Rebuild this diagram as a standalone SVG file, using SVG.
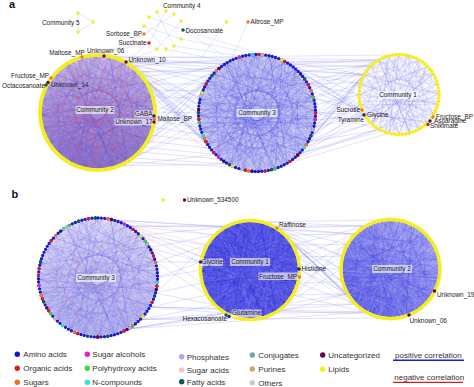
<svg xmlns="http://www.w3.org/2000/svg" width="474" height="387" viewBox="0 0 474 387">
<style>
text{font-family:"Liberation Sans",Arial,sans-serif;fill:#222}
.l{font-size:6.4px}
.lg{font-size:8px;fill:#333}
.pl{font-size:11px;font-weight:bold;fill:#111}
.box{fill:#fff;fill-opacity:.62}
.e{stroke:#6060ee;stroke-opacity:.36;stroke-width:.5;fill:none}
.er{stroke:#e87a8a;stroke-opacity:.35;stroke-width:.5;fill:none}
.ef{stroke:#a8a8f0;stroke-opacity:.55;stroke-width:.5;fill:none}
.ring{fill:none;stroke-linecap:round}
.y{stroke:#f3ee1c}
.ch{fill:none}
</style>
<defs>
<path id="ch" d="M1 0L-.707 .707M.966 .259L-.966 -.259M.866 .5L-.5 .866M.707 .707L-.5 -.866M.5 .866L-.966 .259M.259 .966L.259 -.966M0 1L-.866 -.5M-.259 .966L.5 -.866M-.5 .866L-.259 -.966M-.707 .707L.866 -.5M-.866 .5L.707 .707M-.966 .259L0 -1M-1 0L.707 -.707M-.966 -.259L.866 .5M-.866 -.5L.966 -.259M-.707 -.707L0 1M-.5 -.866L.966 .259M-.259 -.966L.5 .866M0 -1L-.259 .966M.259 -.966L-.866 .5M.5 -.866L.259 .966M.707 -.707L-1 0M.866 -.5L-.707 -.707M.966 -.259L-.5 .866M1 0L-.866 -.5M.866 .5L.259 -.966M.5 .866L-.707 -.707M0 1L.707 -.707M-.707 .707L-.259 -.966M-.966 .259L.966 .259M-.966 -.259L.5 -.866M-.5 -.866L.259 .966M0 -1L.707 .707M.866 -.5L-.707 .707M.966 .259L-.259 .966M.259 .966L-1 0M-.866 .5L-.5 -.866M-.866 -.5L.5 -.866M.259 -.966L.966 -.259M.985 .174L-.985 .174M.819 .574L-.819 -.574M.469 .883L-.139 -.99M.087 .996L-.342 -.94M-.375 .927L.766 -.643M-.766 .643L.643 -.766M-.94 .342L.996 .087M-.996 -.087L.883 .469M-.819 -.574L.53 .848M-.423 -.906L.259 .966M-.087 -.996L-.342 .94M.342 -.94L-.643 .766"/>
<path id="u110" d="M17.507 0A17.507 17.507 0 1 1 -17.507 0A17.507 17.507 0 1 1 17.507 0"/>
<path id="u130" d="M20.69 0A20.69 20.69 0 1 1 -20.69 0A20.69 20.69 0 1 1 20.69 0"/>
<path id="u72" d="M11.459 0A11.459 11.459 0 1 1 -11.459 0A11.459 11.459 0 1 1 11.459 0"/>
<path id="u120" d="M19.099 0A19.099 19.099 0 1 1 -19.099 0A19.099 19.099 0 1 1 19.099 0"/>
<linearGradient id="g2a" x1="0" y1="0" x2="0" y2="1"><stop offset="0" stop-color="#c6bcf0"/><stop offset="1" stop-color="#8474d0"/></linearGradient>
<linearGradient id="g3b" x1="0" y1="0" x2="0" y2="1"><stop offset="0" stop-color="#dedef9"/><stop offset="1" stop-color="#b4b4f1"/></linearGradient>
<linearGradient id="g2b" x1="1" y1="0" x2="0" y2="1"><stop offset="0" stop-color="#b6b6f6"/><stop offset=".5" stop-color="#8a8aee"/><stop offset="1" stop-color="#5c5ce6"/></linearGradient>
</defs>
<rect width="474" height="387" fill="#fff"/>
<text class="pl" x="9" y="8">a</text>
<text class="pl" x="11.5" y="198.3">b</text>

<g id="connectors">
<path class="e" d="M126 62L228 62M126 62L215.5 71.5M126 62L206 84M126 62L200.5 98M126 62L198.5 113M126 62L200.5 128M126 62L206 142M138 72L215.5 71.5M138 72L200.5 98M138 72L200.5 128M138 72L228 164M147 84L206 84M147 84L198.5 113M147 84L215.5 154.5M147 84L228 62M153 97L200.5 98M153 97L215.5 71.5M153 97L206 142M155 112L198.5 113M155 112L206 84M155 112L228 164M154 120L200.5 128M154 120L228 62M150 135L206 142M150 135L200.5 98M143 147L215.5 154.5M143 147L198.5 113M133 158L228 164M133 158L200.5 128M120 166L228 164M120 166L215.5 154.5M104 56L379 60M126 62L371 66M117 58L388 55M126 62L364 74.5M138 72L379 60M104 56L364 74.5"/>
<path class="e" d="M132 66L210 78M132 66L203 135M143 77L199 105M143 77L221 159M151 90L203 91M151 90L210 148M154.5 105L199.5 121M154.5 105L221 67M153 127L203 135M153 127L210 78M147 141L210 148M147 141L199 105M139 152L221 159M139 152L203 91M127 162L234 167M127 162L199.5 121M132 66L234 59M143 77L221 67M151 90L234 167M153 127L221 67M132 66L199 105M143 77L203 135M147 141L221 67M139 152L210 78"/>
<path class="e" d="M286 62L379 60M286 62L364 74.5M286 62L359 94.5M286 62L362 110M298 72L371 66M298 72L360.4 84M298 72L360.4 105M298 72L364 115M308 84L364 74.5M308 84L359 94.5M308 84L362 110M308 84L379 60M313.5 98L360.4 84M313.5 98L364 115M313.5 98L371 66M315.5 113L359 94.5M315.5 113L362 110M315.5 113L379 129M315.5 113L379 60M313.5 128L360.4 105M313.5 128L364 115M313.5 128L364 74.5M313.5 128L388 55M308 142L364 115M308 142L371 123M308 142L371 66M298 154L379 129M298 154L379 60M298 154L362 110M286 164L389 133M286 164L364 115M286 164L360.4 84M315.5 113L433 117M308 142L430 121M313.5 98L428 124M298 154L433 117M286 62L420 62M308 84L436 80"/>
<path class="e" d="M292 67L371 66M303 78L364 74.5M311 91L362 110M314.5 105L359 94.5M315 120L364 115M311 135L360.4 105M303 148L371 123M292 159L379 129M311 91L379 60M303 148L364 74.5M292 159L359 94.5M315 120L388 55M292 67L362 110M303 78L364 115M311 135L371 66"/>
<path class="ef" d="M78 13L93 22M93 22L78 32M78 13L78 32M157 12L174 46M166 11L149 43M144 26L181 39M149 17L183 30M174 14L144 34M181 21L157 49M166 49L144 26M144 34L104 56M149 43L126 62M157 49L126 62M166 49L228 62M174 46L240 56M181 39L257 54M183 30L287 62M149 43L82 57M248 22L232 58M226 22L200 60M183 30L223 55"/>
<path class="e" d="M128 226L225 227M128 226L215 235M128 226L202 257M140 235.4L225 227M140 235.4L207 245M140 235.4L200.5 262M149.5 247.75L215 235M149.5 247.75L200.5 262M149.5 247.75L202 283M155.5 262L200.5 262M155.5 262L207 245M155.5 262L207 295M157.5 277.5L200.5 270M157.5 277.5L200.5 262M155.5 293L202 283M155.5 293L215 305M155.5 293L225 227M149.5 307L207 295M149.5 307L225 313M140 319.6L215 305M140 319.6L229 316M128 329L225 313M128 329L229 316M113.4 220L225 227M149.5 307L366 312M140 319.6L355.5 304M128 329L366 312M140 319.6L380 318M149.5 307L409 315M128 329L347.6 293.75M113.4 220L355.5 234M128 226L366 226"/>
<path class="er" d="M128 226L207 245M140 235.4L202 257M113.4 220L215 235M120 222L200 250"/>
<path class="e" d="M277 228L366 226M277 228L355.5 234M277 228L347.6 244.25M277 228L342.7 256.2M277 228L341 269M277 228L342.7 281.8M277 228L347.6 293.75M277 228L355.5 304M277 228L366 312M285 235L355.5 234M285 235L342.7 256.2M285 235L342.7 281.8M285 235L355.5 304M293 245L347.6 244.25M293 245L341 269M293 245L347.6 293.75M293 245L366 312M293 245L366 226M298 257L342.7 256.2M298 257L342.7 281.8M298 257L355.5 304M298 257L355.5 234M299 269L341 269M299 269L347.6 293.75M299 269L366 312M299 269L347.6 244.25M298 283L342.7 281.8M298 283L355.5 304M298 283L342.7 256.2M293 295L347.6 293.75M293 295L366 312M293 295L355.5 234M285 305L355.5 304M285 305L341 269M285 305L366 226M275 313L366 312M275 313L347.6 293.75M262 222L366 226M262 222L380 220"/>
</g>

<g id="community2a">
<circle cx="97.5" cy="112.5" r="56" fill="url(#g2a)"/>
<use href="#ch" class="ch" transform="translate(97.5 112.5) scale(56)" stroke="#4a4ad8" stroke-opacity=".22" stroke-width=".01"/>
<use href="#ch" class="ch" transform="translate(97.5 112.5) rotate(19) scale(-56 56)" stroke="#d04a70" stroke-opacity=".22" stroke-width=".01"/>
<use href="#ch" class="ch" transform="translate(97.5 112.5) rotate(43) scale(56)" stroke="#5a4ad8" stroke-opacity=".2" stroke-width=".01"/>
<use href="#ch" class="ch" transform="translate(97.5 112.5) rotate(71) scale(-56 56)" stroke="#c85080" stroke-opacity=".2" stroke-width=".01"/>
<use href="#ch" class="ch" transform="translate(97.5 112.5) rotate(103) scale(56)" stroke="#4040d0" stroke-opacity=".2" stroke-width=".01"/>
<use href="#ch" class="ch" transform="translate(97.5 112.5) rotate(131) scale(-56 56)" stroke="#c05088" stroke-opacity=".18" stroke-width=".01"/>
<use href="#u130" class="ring y" transform="translate(97.5 112.5) scale(2.779)" stroke-width="1.511" stroke-dasharray="0 1"/>
<rect class="box" x="75.5" y="106" width="39" height="8"/>
<text class="l" x="95" y="112" text-anchor="middle">Community 2</text>
<circle cx="82" cy="57" r="1.7" fill="#f07a22"/><text class="l" x="67" y="55" text-anchor="middle">Maltose_MP</text>
<circle cx="104" cy="56" r="1.7" fill="#5a0848"/><text class="l" x="87" y="52.5">Unknown_06</text>
<circle cx="126" cy="62" r="1.7" fill="#5a0848"/><text class="l" x="128.5" y="62">Unknown_10</text>
<circle cx="51" cy="78" r="1.7" fill="#f07a22"/><text class="l" x="49" y="78" text-anchor="end">Fructose_MP</text>
<circle cx="48" cy="82.5" r="1.7" fill="#5a0848"/><circle cx="46" cy="85" r="1.7" fill="#0e5e52"/>
<text class="l" x="45" y="87.5" text-anchor="end">Octacosanoate</text><text class="l" x="51" y="87">Unknown_14</text>
<rect class="box" x="134.5" y="110.5" width="18.5" height="7"/>
<rect class="box" x="114.5" y="118.5" width="38.5" height="7"/>
<circle cx="154" cy="116" r="1.7" fill="#1a1ad0"/><text class="l" x="152.5" y="116.3" text-anchor="end">GABA</text>
<circle cx="154" cy="122" r="1.7" fill="#5a0848"/><text class="l" x="152.5" y="124" text-anchor="end">Unknown_17</text>
<circle cx="154.5" cy="119" r="1.7" fill="#f07a22"/><text class="l" x="157.5" y="121.3">Maltose_BP</text>
</g>

<g id="community3a">
<circle cx="257" cy="113" r="57" fill="#c8c8f4"/>
<use href="#ch" class="ch" transform="translate(257 113) scale(57)" stroke="#4040e0" stroke-opacity=".24" stroke-width=".01"/>
<use href="#ch" class="ch" transform="translate(257 113) rotate(19) scale(-57 57)" stroke="#4a4ae2" stroke-opacity=".22" stroke-width=".01"/>
<use href="#ch" class="ch" transform="translate(257 113) rotate(43) scale(57)" stroke="#5a5ae8" stroke-opacity=".22" stroke-width=".01"/>
<use href="#ch" class="ch" transform="translate(257 113) rotate(71) scale(-57 57)" stroke="#3434d8" stroke-opacity=".2" stroke-width=".01"/>
<use href="#ch" class="ch" transform="translate(257 113) rotate(103) scale(57)" stroke="#3c3cdc" stroke-opacity=".2" stroke-width=".01"/>
<g transform="translate(257 113) scale(3.3415)" stroke-width="1.02">
<use href="#u110" class="ring" stroke="#1a1ad0" stroke-dasharray="0 1"/>
<use href="#u110" class="ring" stroke="#e01818" stroke-dasharray="0 5 0 9 0 3 0 8 0 6 0 11 0 4 0 7 0 2 0 9 0 13 0 6 0 8 0 10 0 9"/>
<use href="#u110" class="ring" stroke="#5a0848" stroke-dashoffset="-2" stroke-dasharray="0 12 0 15 0 9 0 18 0 14 0 11 0 16 0 15"/>
<use href="#u110" class="ring" stroke="#0e5e52" stroke-dashoffset="-7" stroke-dasharray="0 16 0 13 0 19 0 12 0 17 0 15 0 18"/>
<use href="#u110" class="ring" stroke="#f07a22" stroke-dashoffset="-10" stroke-dasharray="0 20 0 17 0 22 0 15 0 19 0 17"/>
<use href="#u110" class="ring" stroke="#3cd03c" stroke-dashoffset="-22" stroke-dasharray="0 30 0 25 0 28 0 27"/>
<use href="#u110" class="ring" stroke="#f0ec1c" stroke-dashoffset="-35" stroke-dasharray="0 26 0 29 0 31 0 24"/>
<use href="#u110" class="ring" stroke="#e020d0" stroke-dashoffset="-40" stroke-dasharray="0 37 0 35 0 38"/>
<use href="#u110" class="ring" stroke="#30e0d0" stroke-dashoffset="-48" stroke-dasharray="0 33 0 40 0 37"/>
<use href="#u110" class="ring" stroke="#b8b8cc" stroke-dashoffset="-60" stroke-dasharray="0 24 0 31 0 27 0 28"/>
</g>
<rect class="box" x="237" y="109" width="40" height="8"/>
<text class="l" x="257" y="115" text-anchor="middle">Community 3</text>
</g>

<g id="community1a">
<circle cx="399" cy="94.5" r="39" fill="#f6f6fe" fill-opacity=".75"/>
<use href="#ch" class="ch" transform="translate(399 94.5) scale(39)" stroke="#7070ee" stroke-opacity=".3" stroke-width=".014"/>
<use href="#ch" class="ch" transform="translate(399 94.5) rotate(29) scale(-39 39)" stroke="#8080f0" stroke-opacity=".28" stroke-width=".014"/>
<use href="#u72" class="ring y" transform="translate(399 94.5) scale(3.4907)" stroke-width="1.05" stroke-dasharray="0 1"/>
<rect class="box" x="378" y="91" width="40" height="8"/>
<text class="l" x="398" y="97" text-anchor="middle">Community 1</text>
<circle cx="362" cy="110" r="1.7" fill="#f07a22"/><text class="l" x="360" y="112" text-anchor="end">Sucrose</text>
<circle cx="364" cy="115" r="1.7" fill="#1a1ad0"/><text class="l" x="367" y="117">Glycine</text>
<text class="l" x="364" y="121.5" text-anchor="end">Tyramine</text>
<circle cx="433" cy="117" r="1.7" fill="#f07a22"/><text class="l" x="436" y="118.8">Fructose_BP</text>
<circle cx="430" cy="121" r="1.7" fill="#1a1ad0"/><text class="l" x="434" y="123.3">Asparagine</text>
<circle cx="428" cy="124.5" r="1.7" fill="#e01818"/><text class="l" x="430" y="128">Shikimate</text>
</g>

<g id="community5">
<circle cx="78" cy="13" r="1.7" fill="#f3ee1c"/><circle cx="93" cy="22" r="1.7" fill="#f3ee1c"/><circle cx="78" cy="32" r="1.7" fill="#f3ee1c"/>
<text class="l" x="42" y="25">Community 5</text>
</g>

<g id="community4">
<circle cx="157" cy="12" r="1.7" fill="#f3ee1c"/><circle cx="166" cy="11" r="1.7" fill="#f3ee1c"/><circle cx="174" cy="14" r="1.7" fill="#f3ee1c"/><circle cx="181" cy="21" r="1.7" fill="#f3ee1c"/><circle cx="181" cy="39" r="1.7" fill="#f3ee1c"/><circle cx="174" cy="46" r="1.7" fill="#f3ee1c"/><circle cx="166" cy="49" r="1.7" fill="#f3ee1c"/><circle cx="157" cy="49" r="1.7" fill="#f3ee1c"/><circle cx="149" cy="17" r="1.7" fill="#f3ee1c"/><circle cx="144" cy="26" r="1.7" fill="#f3ee1c"/>
<circle cx="144" cy="34" r="1.7" fill="#f07a22"/><text class="l" x="142" y="35.5" text-anchor="end">Sorbose_BP</text>
<circle cx="149" cy="43" r="1.7" fill="#e01818"/><text class="l" x="146.5" y="45" text-anchor="end">Succinate</text>
<circle cx="183" cy="30" r="1.7" fill="#0e5e52"/><text class="l" x="185.5" y="33">Docosanoate</text>
<text class="l" x="163" y="8">Community 4</text>
</g>

<g id="altrose">
<circle cx="226.5" cy="22" r="1.7" fill="#f3ee1c"/>
<circle cx="248" cy="22" r="1.7" fill="#f07a22"/><text class="l" x="250.5" y="24">Altrose_MP</text>
</g>

<g id="unknown534500">
<circle cx="163" cy="200" r="1.7" fill="#f3ee1c"/>
<circle cx="184.5" cy="200" r="1.7" fill="#5a0848"/><text class="l" x="187" y="202.3">Unknown_534500</text>
</g>

<g id="community3b">
<circle cx="98" cy="277.5" r="58" fill="url(#g3b)"/>
<use href="#ch" class="ch" transform="translate(98 277.5) scale(58)" stroke="#5a5ae6" stroke-opacity=".22" stroke-width=".01"/>
<use href="#ch" class="ch" transform="translate(98 277.5) rotate(19) scale(-58 58)" stroke="#6060e8" stroke-opacity=".2" stroke-width=".01"/>
<use href="#ch" class="ch" transform="translate(98 277.5) rotate(43) scale(58)" stroke="#4c4ce0" stroke-opacity=".2" stroke-width=".01"/>
<use href="#ch" class="ch" transform="translate(98 277.5) rotate(71) scale(-58 58)" stroke="#e08090" stroke-opacity=".16" stroke-width=".01"/>
<use href="#ch" class="ch" transform="translate(98 277.5) rotate(103) scale(58)" stroke="#5050e0" stroke-opacity=".18" stroke-width=".01"/>
<g transform="translate(98 277.5) rotate(-90) scale(3.3987)" stroke-width="1.0">
<use href="#u110" class="ring" stroke="#1a1ad0" stroke-dasharray="0 1"/>
<use href="#u110" class="ring" stroke="#e01818" stroke-dashoffset="-30" stroke-dasharray="0 5 0 9 0 3 0 8 0 6 0 11 0 4 0 7 0 2 0 9 0 13 0 6 0 8 0 10 0 9"/>
<use href="#u110" class="ring" stroke="#5a0848" stroke-dashoffset="-19" stroke-dasharray="0 12 0 15 0 9 0 18 0 14 0 11 0 16 0 15"/>
<use href="#u110" class="ring" stroke="#0e5e52" stroke-dashoffset="-52" stroke-dasharray="0 6 0 13 0 4 0 12 0 17 0 5 0 18 0 16 0 19"/>
<use href="#u110" class="ring" stroke="#f07a22" stroke-dashoffset="-3" stroke-dasharray="0 20 0 17 0 22 0 15 0 19 0 17"/>
<use href="#u110" class="ring" stroke="#3cd03c" stroke-dashoffset="-71" stroke-dasharray="0 30 0 25 0 28 0 27"/>
<use href="#u110" class="ring" stroke="#f0ec1c" stroke-dashoffset="-14" stroke-dasharray="0 26 0 29 0 31 0 24"/>
<use href="#u110" class="ring" stroke="#e020d0" stroke-dashoffset="-8" stroke-dasharray="0 37 0 35 0 38"/>
<use href="#u110" class="ring" stroke="#30e0d0" stroke-dashoffset="-66" stroke-dasharray="0 33 0 40 0 37"/>
<use href="#u110" class="ring" stroke="#b8b8cc" stroke-dashoffset="-45" stroke-dasharray="0 24 0 31 0 27 0 28"/>
</g>
<rect class="box" x="76" y="274" width="40" height="8"/>
<text class="l" x="96" y="280" text-anchor="middle">Community 3</text>
</g>

<g id="community1b">
<circle cx="250" cy="270" r="48" fill="#5454e6"/>
<use href="#ch" class="ch" transform="translate(250 270) scale(48)" stroke="#2a2ad0" stroke-opacity=".35" stroke-width=".012"/>
<use href="#ch" class="ch" transform="translate(250 270) rotate(19) scale(-48 48)" stroke="#9a9af4" stroke-opacity=".3" stroke-width=".012"/>
<use href="#ch" class="ch" transform="translate(250 270) rotate(43) scale(48)" stroke="#3a3ad8" stroke-opacity=".3" stroke-width=".012"/>
<use href="#ch" class="ch" transform="translate(250 270) rotate(71) scale(-48 48)" stroke="#8686f0" stroke-opacity=".28" stroke-width=".012"/>
<use href="#ch" class="ch" transform="translate(250 270) rotate(103) scale(48)" stroke="#2c2cd0" stroke-opacity=".3" stroke-width=".012"/>
<use href="#u120" class="ring y" transform="translate(250 270) scale(2.5918)" stroke-width="1.466" stroke-dasharray="0 1"/>
<rect class="box" x="230" y="258" width="40" height="8"/>
<text class="l" x="250" y="264" text-anchor="middle">Community 1</text>
<rect class="box" x="200.5" y="258.5" width="22.5" height="7.5"/>
<circle cx="200.5" cy="262" r="1.7" fill="#1a1ad0"/><text class="l" x="201.5" y="264.3">Glycine</text>
<circle cx="277" cy="228" r="1.7" fill="#f07a22"/><text class="l" x="279" y="227.3">Raffinose</text>
<circle cx="299" cy="269" r="1.7" fill="#1a1ad0"/><text class="l" x="301.5" y="271.3">Histidine</text>
<rect class="box" x="258.5" y="272.5" width="39" height="7.5"/>
<circle cx="299.5" cy="277" r="1.7" fill="#f07a22"/><text class="l" x="297" y="278.5" text-anchor="end">Fructose_MP</text>
<rect class="box" x="231.5" y="309.5" width="30" height="7.5"/>
<circle cx="226" cy="315" r="1.7" fill="#0e5e52"/>
<circle cx="229" cy="316.5" r="1.7" fill="#1a1ad0"/><text class="l" x="232" y="315.3">Glutamine</text>
<text class="l" x="227" y="320.5" text-anchor="end">Hexacosanoate</text>
</g>

<g id="community2b">
<circle cx="390.5" cy="269" r="48" fill="url(#g2b)"/>
<use href="#ch" class="ch" transform="translate(390.5 269) scale(48)" stroke="#3a3adc" stroke-opacity=".3" stroke-width=".012"/>
<use href="#ch" class="ch" transform="translate(390.5 269) rotate(19) scale(-48 48)" stroke="#4a4ae0" stroke-opacity=".28" stroke-width=".012"/>
<use href="#ch" class="ch" transform="translate(390.5 269) rotate(43) scale(48)" stroke="#c0c0f8" stroke-opacity=".3" stroke-width=".012"/>
<use href="#ch" class="ch" transform="translate(390.5 269) rotate(71) scale(-48 48)" stroke="#3030d4" stroke-opacity=".25" stroke-width=".012"/>
<use href="#u120" class="ring y" transform="translate(390.5 269) scale(2.5918)" stroke-width="1.466" stroke-dasharray="0 1"/>
<rect class="box" x="372" y="265" width="40" height="8"/>
<text class="l" x="392" y="271" text-anchor="middle">Community 2</text>
<circle cx="434.5" cy="291" r="1.7" fill="#5a0848"/><text class="l" x="437" y="297">Unknown_19</text>
<circle cx="409" cy="315" r="1.7" fill="#5a0848"/><text class="l" x="409.5" y="323">Unknown_06</text>
</g>

<g id="legend">
<circle cx="17.3" cy="354.3" r="2.7" fill="#1414d2"/><text class="lg" x="23.3" y="357.1">Amino acids</text>
<circle cx="17.3" cy="368.3" r="2.7" fill="#e21a1a"/><text class="lg" x="23.3" y="371.1">Organic acids</text>
<circle cx="17.3" cy="382.3" r="2.7" fill="#f07020"/><text class="lg" x="23.3" y="385.1">Sugars</text>
<circle cx="87.3" cy="354.3" r="2.7" fill="#e81ad8"/><text class="lg" x="92.3" y="357.1">Sugar alcohols</text>
<circle cx="87.3" cy="368.3" r="2.7" fill="#3ad83a"/><text class="lg" x="92.3" y="371.1">Polyhydroxy acids</text>
<circle cx="87.3" cy="382.3" r="2.7" fill="#2ee8d0"/><text class="lg" x="92.3" y="385.1">N-compounds</text>
<circle cx="181.7" cy="356.7" r="2.7" fill="#a8a8f0"/><text class="lg" x="186.7" y="359.5">Phosphates</text>
<circle cx="181.7" cy="370" r="2.7" fill="#f2c8c8"/><text class="lg" x="186.7" y="372.8">Sugar acids</text>
<circle cx="181.7" cy="381.7" r="2.7" fill="#0e5a52"/><text class="lg" x="186.7" y="384.5">Fatty acids</text>
<circle cx="252.3" cy="355" r="2.7" fill="#6aaaa0"/><text class="lg" x="258.3" y="357.8">Conjugates</text>
<circle cx="252.3" cy="369" r="2.7" fill="#c8b058"/><text class="lg" x="258.3" y="371.8">Purines</text>
<circle cx="252.3" cy="382.7" r="2.7" fill="#c8c8d4"/><text class="lg" x="258.3" y="385.5">Others</text>
<circle cx="322.7" cy="355" r="2.7" fill="#5a0a50"/><text class="lg" x="328.3" y="357.8">Uncategorized</text>
<circle cx="322.7" cy="369.3" r="2.7" fill="#f0f020"/><text class="lg" x="328.3" y="372.1">Lipids</text>
<text class="lg" x="395" y="358.4">positive correlation</text>
<line x1="393" y1="360.3" x2="464" y2="360.3" stroke="#1a1ad8" stroke-width="1.4"/>
<text class="lg" x="394.3" y="380">negative correlation</text>
<line x1="393" y1="382.4" x2="463" y2="382.4" stroke="#e01818" stroke-width="1.4"/>
</g>
</svg>
